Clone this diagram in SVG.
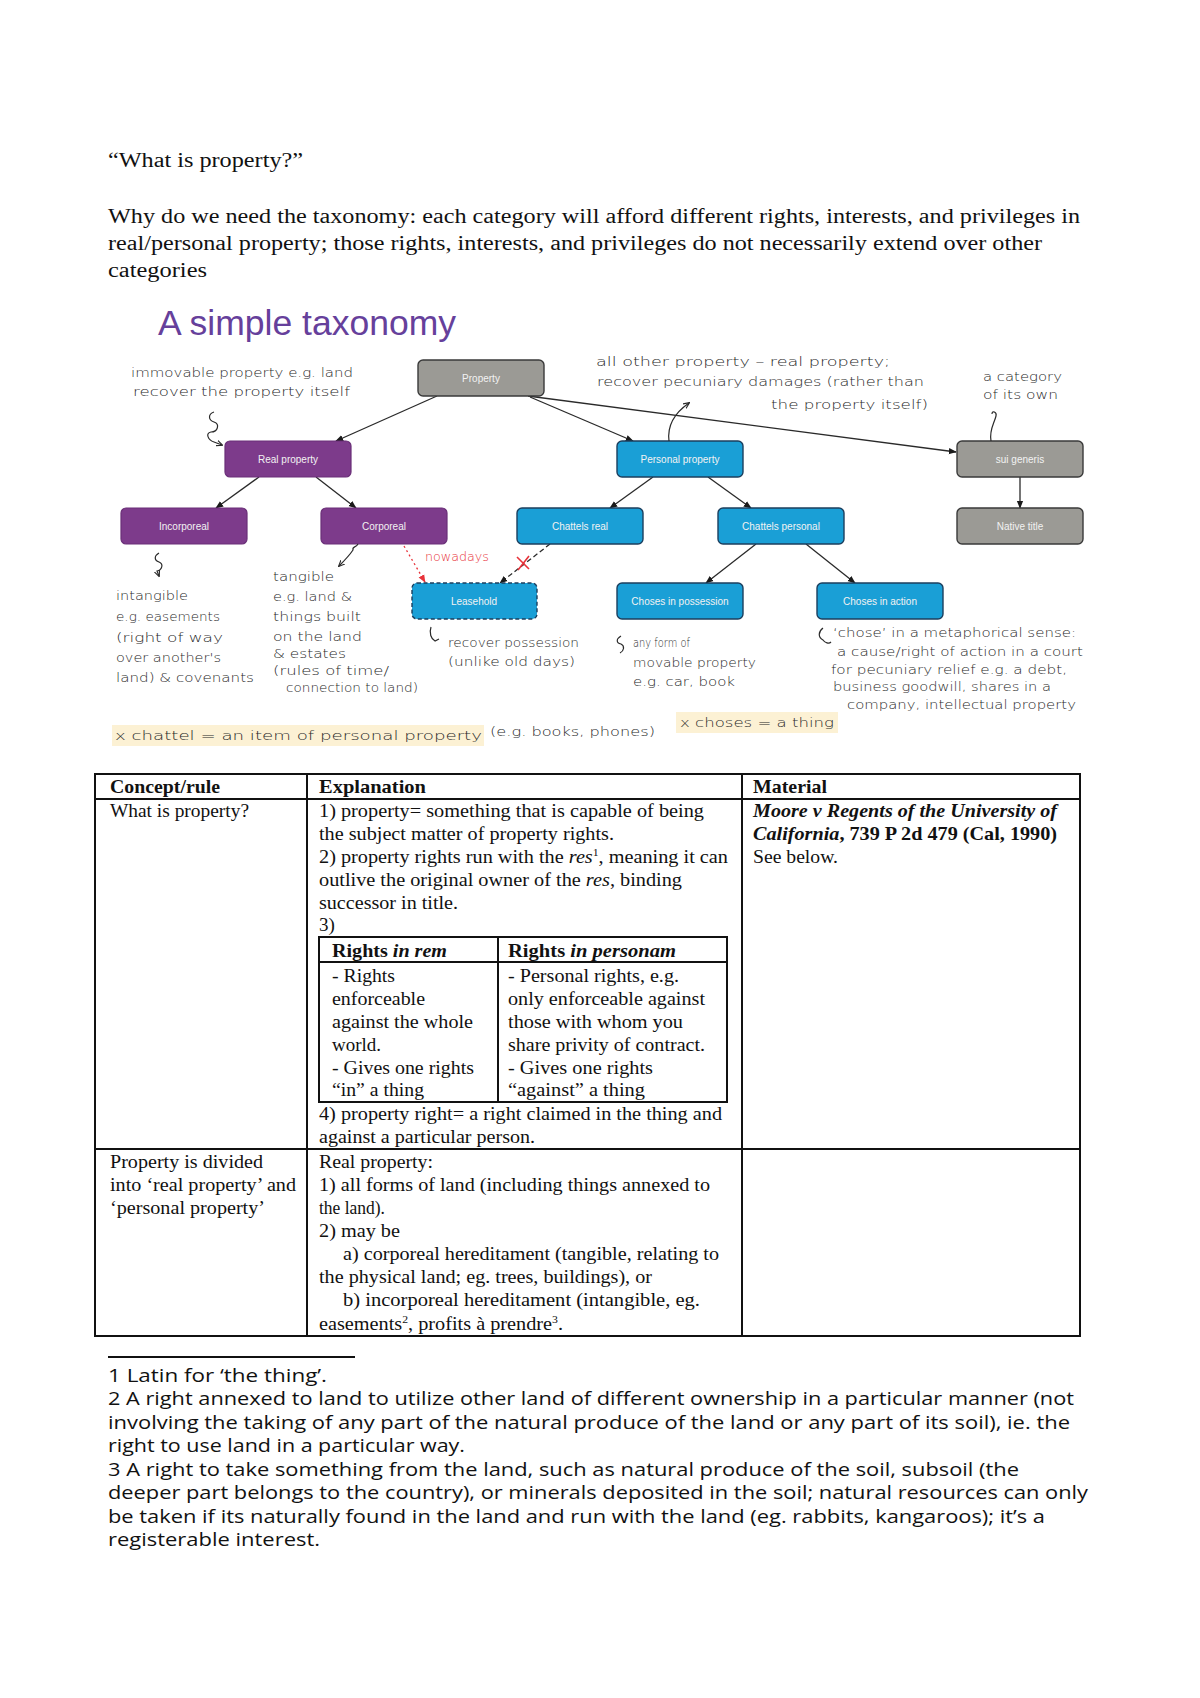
<svg xmlns="http://www.w3.org/2000/svg" width="1200" height="1698" viewBox="0 0 1200 1698">
<style>
.serif{font-family:"Liberation Serif","Times New Roman",serif;fill:#111;}
.p20{font-size:20px;}
.p19{font-size:19px;}
.b{font-weight:bold;}
.i{font-style:italic;}
.fn{font-family:"Open Sans","Noto Sans","DejaVu Sans",sans-serif;font-size:17.5px;fill:#111;}
.title{font-family:"Liberation Sans",Arial,sans-serif;font-size:35px;fill:#66409b;}
.nl{font-family:"Liberation Sans",Arial,sans-serif;font-size:10px;fill:#f2f2f2;text-anchor:middle;}
.grey{fill:#9b9a95;stroke:#3a3a3a;stroke-width:1.4;}
.purple{fill:#7d3b8b;stroke:#6a2f78;stroke-width:1.2;}
.blue{fill:#1a9fd6;stroke:#1c3f5e;stroke-width:1.4;}
.hw{font-family:"DejaVu Sans","Liberation Sans",sans-serif;font-size:12.5px;font-weight:300;fill:#2a2a2a;}
.red{fill:#e8333a;}
.edge{stroke:#2a2a2a;stroke-width:1.3;fill:none;}
.sq{stroke:#2a2a2a;stroke-width:1.2;fill:none;}
.tb{stroke:#111;stroke-width:2;fill:none;}
</style>
<defs>
<marker id="ah" viewBox="0 0 10 10" refX="9" refY="5" markerWidth="8" markerHeight="8" markerUnits="userSpaceOnUse" orient="auto"><path d="M0,1 L10,5 L0,9 z" fill="#1a1a1a"/></marker>
<marker id="ahr" viewBox="0 0 10 10" refX="9" refY="5" markerWidth="8" markerHeight="8" markerUnits="userSpaceOnUse" orient="auto"><path d="M0,1 L10,5 L0,9 z" fill="#e8333a"/></marker>
<marker id="ahs" viewBox="0 0 10 10" refX="8" refY="5" markerWidth="7" markerHeight="7" markerUnits="userSpaceOnUse" orient="auto"><path d="M0,1 L9,5 L0,9" fill="none" stroke="#2a2a2a" stroke-width="1.6"/></marker>
</defs>
<rect width="1200" height="1698" fill="#ffffff"/>

<!-- intro text -->
<g id="intro" class="serif p20">
<text x="108" y="167" textLength="195" lengthAdjust="spacingAndGlyphs">“What is property?”</text>
<text x="108" y="223" textLength="972" lengthAdjust="spacingAndGlyphs">Why do we need the taxonomy: each category will afford different rights, interests, and privileges in</text>
<text x="108" y="250" textLength="934" lengthAdjust="spacingAndGlyphs">real/personal property; those rights, interests, and privileges do not necessarily extend over other</text>
<text x="108" y="277" textLength="99" lengthAdjust="spacingAndGlyphs">categories</text>
</g>

<text id="title" class="title" x="158" y="335" textLength="298" lengthAdjust="spacingAndGlyphs">A simple taxonomy</text>

<!-- highlights -->
<g id="highlights">
<rect x="112" y="725" width="372" height="21" fill="#fcf1d4"/>
<rect x="676" y="712" width="162" height="21" fill="#fcf1d4"/>
</g>

<!-- connectors -->
<g id="connectors">
<line class="edge" x1="437" y1="396" x2="336" y2="441" marker-end="url(#ah)"/>
<line class="edge" x1="530" y1="397" x2="633" y2="441" marker-end="url(#ah)"/>
<line class="edge" x1="528" y1="396" x2="956" y2="452" marker-end="url(#ah)"/>
<line class="edge" x1="259" y1="477" x2="216" y2="508" marker-end="url(#ah)"/>
<line class="edge" x1="316" y1="477" x2="356" y2="508" marker-end="url(#ah)"/>
<line class="edge" x1="653" y1="477" x2="610" y2="508" marker-end="url(#ah)"/>
<line class="edge" x1="708" y1="477" x2="751" y2="508" marker-end="url(#ah)"/>
<line class="edge" x1="1020" y1="477" x2="1020" y2="508" marker-end="url(#ah)"/>
<line class="edge" x1="756" y1="544" x2="706" y2="583" marker-end="url(#ah)"/>
<line class="edge" x1="806" y1="544" x2="855" y2="583" marker-end="url(#ah)"/>
<line class="edge" x1="550" y1="544" x2="500" y2="583" stroke-dasharray="5,3" marker-end="url(#ah)"/>
<line x1="404" y1="546" x2="425" y2="582" stroke="#e8333a" stroke-width="1.3" stroke-dasharray="2,3" marker-end="url(#ahr)"/>
<path d="M517,557 L529,569 M529,556 L518,570" stroke="#e8333a" stroke-width="1.6" fill="none"/>
</g>

<!-- nodes -->
<g id="n-property"><rect class="grey" x="418" y="360" width="126" height="36" rx="5"/><text class="nl" x="481" y="382">Property</text></g>
<g id="n-real"><rect class="purple" x="225" y="441" width="126" height="36" rx="5"/><text class="nl" x="288" y="463">Real property</text></g>
<g id="n-personal"><rect class="blue" x="617" y="441" width="126" height="36" rx="5"/><text class="nl" x="680" y="463">Personal property</text></g>
<g id="n-sui"><rect class="grey" x="957" y="441" width="126" height="36" rx="5"/><text class="nl" x="1020" y="463">sui generis</text></g>
<g id="n-incorporeal"><rect class="purple" x="121" y="508" width="126" height="36" rx="5"/><text class="nl" x="184" y="530">Incorporeal</text></g>
<g id="n-corporeal"><rect class="purple" x="321" y="508" width="126" height="36" rx="5"/><text class="nl" x="384" y="530">Corporeal</text></g>
<g id="n-chattels-real"><rect class="blue" x="517" y="508" width="126" height="36" rx="5"/><text class="nl" x="580" y="530">Chattels real</text></g>
<g id="n-chattels-personal"><rect class="blue" x="718" y="508" width="126" height="36" rx="5"/><text class="nl" x="781" y="530">Chattels personal</text></g>
<g id="n-native"><rect class="grey" x="957" y="508" width="126" height="36" rx="5"/><text class="nl" x="1020" y="530">Native title</text></g>
<g id="n-leasehold"><rect class="blue" x="412" y="583" width="125" height="36" rx="5" stroke-dasharray="4,2.5" stroke-width="1.8"/><text class="nl" x="474" y="605">Leasehold</text></g>
<g id="n-possession"><rect class="blue" x="617" y="583" width="126" height="36" rx="5"/><text class="nl" x="680" y="605">Choses in possession</text></g>
<g id="n-action"><rect class="blue" x="817" y="583" width="126" height="36" rx="5"/><text class="nl" x="880" y="605">Choses in action</text></g>

<!-- handwritten annotations -->
<g id="annotations">
<path class="sq" d="M214,412 c-6,2 -6,8 0,10 c6,2 4,10 -3,10 c-6,1 -3,8 3,10 l8,3" marker-end="url(#ahs)"/>
<path class="sq" d="M669,441 C667,425 676,412 689,403" marker-end="url(#ahs)"/>
<path class="sq" d="M991,441 C989,430 994,424 996,416 c1,-4 -4,-6 -4,-2"/>
<path class="sq" d="M159,553 c-5,3 -5,7 0,9 c5,2 3,8 -2,9 l2,5" marker-end="url(#ahs)"/>
<path class="sq" d="M358,544 c-2,4 -6,2 -5,6 c-4,6 -8,10 -14,16" marker-end="url(#ahs)"/>
<path class="sq" d="M431,627 c-2,6 0,12 4,14 l4,-2"/>
<path class="sq" d="M621,636 c-5,3 -5,7 0,8 c4,2 3,7 -1,9"/>
<path class="sq" d="M823,628 c-5,4 -5,9 0,12 c2,3 6,4 8,2"/>

<text class="hw" x="131" y="377" textLength="222" lengthAdjust="spacingAndGlyphs">immovable property e.g. land</text>
<text class="hw" x="133" y="396" textLength="217" lengthAdjust="spacingAndGlyphs">recover the property itself</text>
<text class="hw" x="596" y="366" textLength="294" lengthAdjust="spacingAndGlyphs">all other property – real property;</text>
<text class="hw" x="597" y="386" textLength="327" lengthAdjust="spacingAndGlyphs">recover pecuniary damages (rather than</text>
<text class="hw" x="771" y="409" textLength="157" lengthAdjust="spacingAndGlyphs">the property itself)</text>
<text class="hw" x="983" y="381" textLength="79" lengthAdjust="spacingAndGlyphs">a category</text>
<text class="hw" x="983" y="399" textLength="75" lengthAdjust="spacingAndGlyphs">of its own</text>

<text class="hw" x="116" y="600" textLength="72" lengthAdjust="spacingAndGlyphs">intangible</text>
<text class="hw" x="116" y="621" textLength="104" lengthAdjust="spacingAndGlyphs">e.g. easements</text>
<text class="hw" x="116" y="642" textLength="107" lengthAdjust="spacingAndGlyphs">(right of way</text>
<text class="hw" x="116" y="662" textLength="105" lengthAdjust="spacingAndGlyphs">over another's</text>
<text class="hw" x="116" y="682" textLength="138" lengthAdjust="spacingAndGlyphs">land) &amp; covenants</text>

<text class="hw" x="273" y="581" textLength="61" lengthAdjust="spacingAndGlyphs">tangible</text>
<text class="hw" x="273" y="601" textLength="79" lengthAdjust="spacingAndGlyphs">e.g. land &amp;</text>
<text class="hw" x="273" y="621" textLength="88" lengthAdjust="spacingAndGlyphs">things built</text>
<text class="hw" x="273" y="641" textLength="89" lengthAdjust="spacingAndGlyphs">on the land</text>
<text class="hw" x="273" y="658" textLength="73" lengthAdjust="spacingAndGlyphs">&amp; estates</text>
<text class="hw" x="273" y="675" textLength="116" lengthAdjust="spacingAndGlyphs">(rules of time/</text>
<text class="hw" x="286" y="692" textLength="132" lengthAdjust="spacingAndGlyphs">connection to land)</text>

<text class="hw red" x="425" y="561" textLength="64" lengthAdjust="spacingAndGlyphs">nowadays</text>

<text class="hw" x="448" y="647" textLength="131" lengthAdjust="spacingAndGlyphs">recover possession</text>
<text class="hw" x="448" y="666" textLength="127" lengthAdjust="spacingAndGlyphs">(unlike old days)</text>

<text class="hw" x="633" y="647" textLength="57" lengthAdjust="spacingAndGlyphs">any form of</text>
<text class="hw" x="633" y="667" textLength="123" lengthAdjust="spacingAndGlyphs">movable property</text>
<text class="hw" x="633" y="686" textLength="102" lengthAdjust="spacingAndGlyphs">e.g. car, book</text>

<text class="hw" x="833" y="637" textLength="243" lengthAdjust="spacingAndGlyphs">‘chose’ in a metaphorical sense:</text>
<text class="hw" x="837" y="656" textLength="246" lengthAdjust="spacingAndGlyphs">a cause/right of action in a court</text>
<text class="hw" x="831" y="674" textLength="236" lengthAdjust="spacingAndGlyphs">for pecuniary relief e.g. a debt,</text>
<text class="hw" x="833" y="691" textLength="218" lengthAdjust="spacingAndGlyphs">business goodwill, shares in a</text>
<text class="hw" x="847" y="709" textLength="229" lengthAdjust="spacingAndGlyphs">company, intellectual property</text>

<text class="hw" x="115" y="740" textLength="367" lengthAdjust="spacingAndGlyphs">x chattel = an item of personal property</text>
<text class="hw" x="490" y="736" textLength="165" lengthAdjust="spacingAndGlyphs">(e.g. books, phones)</text>
<text class="hw" x="680" y="727" textLength="154" lengthAdjust="spacingAndGlyphs">x choses = a thing</text>
</g>

<!-- table -->
<g id="table">
<rect class="tb" x="95" y="774" width="985" height="562"/>
<line class="tb" x1="95" y1="799" x2="1080" y2="799"/>
<line class="tb" x1="95" y1="1149" x2="1080" y2="1149"/>
<line class="tb" x1="307" y1="774" x2="307" y2="1336"/>
<line class="tb" x1="742" y1="774" x2="742" y2="1336"/>

<g class="serif p19">
<text class="b" x="110" y="793" textLength="110" lengthAdjust="spacingAndGlyphs">Concept/rule</text>
<text class="b" x="319" y="793" textLength="107" lengthAdjust="spacingAndGlyphs">Explanation</text>
<text class="b" x="753" y="793" textLength="74" lengthAdjust="spacingAndGlyphs">Material</text>

<text x="110" y="817" textLength="139" lengthAdjust="spacingAndGlyphs">What is property?</text>

<text x="319" y="817" textLength="385" lengthAdjust="spacingAndGlyphs">1) property= something that is capable of being</text>
<text x="319" y="840" textLength="295" lengthAdjust="spacingAndGlyphs">the subject matter of property rights.</text>
<text x="319" y="863" textLength="409" lengthAdjust="spacingAndGlyphs">2) property rights run with the <tspan class="i">res</tspan><tspan font-size="11" dy="-7">1</tspan><tspan dy="7">, meaning it can</tspan></text>
<text x="319" y="886" textLength="363" lengthAdjust="spacingAndGlyphs">outlive the original owner of the <tspan class="i">res</tspan>, binding</text>
<text x="319" y="909" textLength="139" lengthAdjust="spacingAndGlyphs">successor in title.</text>
<text x="319" y="931">3)</text>

<text x="319" y="1120" textLength="403" lengthAdjust="spacingAndGlyphs">4) property right= a right claimed in the thing and</text>
<text x="319" y="1143" textLength="216" lengthAdjust="spacingAndGlyphs">against a particular person.</text>

<text class="b i" x="753" y="817" textLength="304" lengthAdjust="spacingAndGlyphs">Moore v Regents of the University of</text>
<text class="b" x="753" y="840" textLength="304" lengthAdjust="spacingAndGlyphs"><tspan class="i">California</tspan>, 739 P 2d 479 (Cal, 1990)</text>
<text x="753" y="863" textLength="85" lengthAdjust="spacingAndGlyphs">See below.</text>

<text x="110" y="1168" textLength="153" lengthAdjust="spacingAndGlyphs">Property is divided</text>
<text x="110" y="1191" textLength="186" lengthAdjust="spacingAndGlyphs">into ‘real property’ and</text>
<text x="110" y="1214" textLength="155" lengthAdjust="spacingAndGlyphs">‘personal property’</text>

<text x="319" y="1168" textLength="114" lengthAdjust="spacingAndGlyphs">Real property:</text>
<text x="319" y="1191" textLength="391" lengthAdjust="spacingAndGlyphs">1) all forms of land (including things annexed to</text>
<text x="319" y="1214" textLength="66" lengthAdjust="spacingAndGlyphs">the land).</text>
<text x="319" y="1237" textLength="81" lengthAdjust="spacingAndGlyphs">2) may be</text>
<text x="343" y="1260" textLength="376" lengthAdjust="spacingAndGlyphs">a) corporeal hereditament (tangible, relating to</text>
<text x="319" y="1283" textLength="333" lengthAdjust="spacingAndGlyphs">the physical land; eg. trees, buildings), or</text>
<text x="343" y="1306" textLength="357" lengthAdjust="spacingAndGlyphs">b) incorporeal hereditament (intangible, eg.</text>
<text x="319" y="1330" textLength="244" lengthAdjust="spacingAndGlyphs">easements<tspan font-size="11" dy="-7">2</tspan><tspan dy="7">, profits à prendre</tspan><tspan font-size="11" dy="-7">3</tspan><tspan dy="7">.</tspan></text>
</g>

<g id="inner-table">
<rect class="tb" x="319" y="937" width="408" height="165"/>
<line class="tb" x1="319" y1="962" x2="727" y2="962"/>
<line class="tb" x1="498" y1="937" x2="498" y2="1102"/>
<g class="serif p19">
<text class="b" x="332" y="957" textLength="115" lengthAdjust="spacingAndGlyphs">Rights <tspan class="i">in rem</tspan></text>
<text class="b" x="508" y="957" textLength="168" lengthAdjust="spacingAndGlyphs">Rights <tspan class="i">in personam</tspan></text>
<text x="332" y="982" textLength="63" lengthAdjust="spacingAndGlyphs">- Rights</text>
<text x="332" y="1005" textLength="93" lengthAdjust="spacingAndGlyphs">enforceable</text>
<text x="332" y="1028" textLength="141" lengthAdjust="spacingAndGlyphs">against the whole</text>
<text x="332" y="1051" textLength="49" lengthAdjust="spacingAndGlyphs">world.</text>
<text x="332" y="1074" textLength="142" lengthAdjust="spacingAndGlyphs">- Gives one rights</text>
<text x="332" y="1096" textLength="92" lengthAdjust="spacingAndGlyphs">“in” a thing</text>
<text x="508" y="982" textLength="171" lengthAdjust="spacingAndGlyphs">- Personal rights, e.g.</text>
<text x="508" y="1005" textLength="197" lengthAdjust="spacingAndGlyphs">only enforceable against</text>
<text x="508" y="1028" textLength="175" lengthAdjust="spacingAndGlyphs">those with whom you</text>
<text x="508" y="1051" textLength="197" lengthAdjust="spacingAndGlyphs">share privity of contract.</text>
<text x="508" y="1074" textLength="145" lengthAdjust="spacingAndGlyphs">- Gives one rights</text>
<text x="508" y="1096" textLength="137" lengthAdjust="spacingAndGlyphs">“against” a thing</text>
</g>
</g>
</g>

<!-- footnotes -->
<g id="footnotes">
<line x1="108" y1="1357" x2="355" y2="1357" stroke="#111" stroke-width="2"/>
<text class="fn" x="108" y="1382" textLength="219" lengthAdjust="spacingAndGlyphs">1 Latin for ‘the thing’.</text>
<text class="fn" x="108" y="1405" textLength="966" lengthAdjust="spacingAndGlyphs">2 A right annexed to land to utilize other land of different ownership in a particular manner (not</text>
<text class="fn" x="108" y="1429" textLength="962" lengthAdjust="spacingAndGlyphs">involving the taking of any part of the natural produce of the land or any part of its soil), ie. the</text>
<text class="fn" x="108" y="1452" textLength="357" lengthAdjust="spacingAndGlyphs">right to use land in a particular way.</text>
<text class="fn" x="108" y="1476" textLength="911" lengthAdjust="spacingAndGlyphs">3 A right to take something from the land, such as natural produce of the soil, subsoil (the</text>
<text class="fn" x="108" y="1499" textLength="980" lengthAdjust="spacingAndGlyphs">deeper part belongs to the country), or minerals deposited in the soil; natural resources can only</text>
<text class="fn" x="108" y="1523" textLength="937" lengthAdjust="spacingAndGlyphs">be taken if its naturally found in the land and run with the land (eg. rabbits, kangaroos); it’s a</text>
<text class="fn" x="108" y="1546" textLength="212" lengthAdjust="spacingAndGlyphs">registerable interest.</text>
</g>
</svg>
